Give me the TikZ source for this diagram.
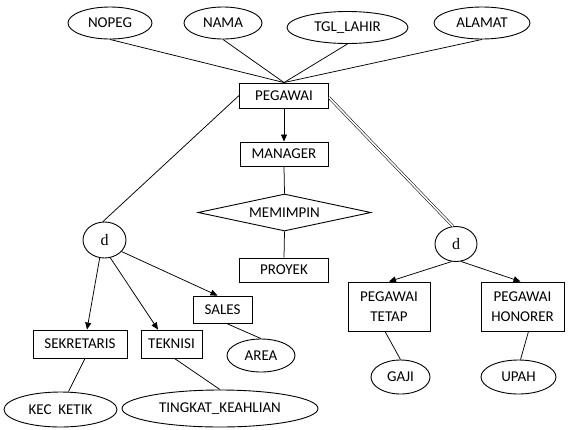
\documentclass[tikz,border=0pt]{standalone}
\usepackage{fontspec}
\setmainfont{Carlito}
\newfontfamily\dfont{Liberation Serif}
\usetikzlibrary{shapes.geometric,arrows.meta}
\begin{document}
\begin{tikzpicture}[x=1pt,y=-1pt,
  every node/.style={font=\fontsize{15}{20}\selectfont, inner sep=0pt, line width=0.9pt},
  ent/.style={draw, rectangle},
  attr/.style={draw, ellipse},
  rel/.style={draw, diamond, aspect=4.7},
  dnode/.style={draw, ellipse, font=\dfont\fontsize{16}{18}\selectfont},
  conn/.style={line width=0.75pt},
  arr/.style={line width=0.75pt, -{Triangle[length=7pt,width=6pt]}},
  dbl/.style={double, double distance=1.6pt, line width=0.55pt}
]
\useasboundingbox[fill=white] (0,0) rectangle (578,429);
% attributes of PEGAWAI
\node[attr, minimum width=84, minimum height=32] (nopeg) at (110,23) {NOPEG};
\node[attr, minimum width=78, minimum height=32] (nama) at (223,23) {NAMA};
\node[attr, minimum width=121, minimum height=32] (tgl) at (347.5,27.5) {TGL\_LAHIR};
\node[attr, minimum width=96, minimum height=32] (alamat) at (482,23) {ALAMAT};
% entities
\node[ent, minimum width=89, minimum height=25] (peg) at (284,95.5) {PEGAWAI};
\node[ent, minimum width=88, minimum height=24] (mgr) at (284,154) {MANAGER};
\node[rel, minimum width=173, minimum height=37] (mem) at (284.5,212.5) {MEMIMPIN};
\node[ent, minimum width=89, minimum height=24] (proyek) at (284,270) {PROYEK};
\node[dnode, minimum width=43, minimum height=36] (dl) at (104.5,240) {d};
\node[dnode, minimum width=42, minimum height=35] (dr) at (456,244) {d};
\node[ent, minimum width=59, minimum height=27] (sales) at (222.5,309.5) {SALES};
\node[ent, minimum width=94, minimum height=28] (sek) at (80,344) {SEKRETARIS};
\node[ent, minimum width=61, minimum height=28] (tek) at (171.5,344) {TEKNISI};
\node[attr, minimum width=68, minimum height=33] (area) at (261,355.5) {AREA};
\node[attr, minimum width=113, minimum height=35] (kec) at (60.5,409.5) {KEC\ \ KETIK};
\node[attr, minimum width=196, minimum height=37] (tingkat) at (220,408.5) {TINGKAT\_KEAHLIAN};
\node[ent, align=center, minimum width=82, minimum height=49] (tetap) at (389,306.5) {PEGAWAI\\TETAP};
\node[ent, align=center, minimum width=83, minimum height=49] (honorer) at (522.5,306.5) {PEGAWAI\\HONORER};
\node[attr, minimum width=59, minimum height=34] (gaji) at (400.5,377) {GAJI};
\node[attr, minimum width=75, minimum height=34] (upah) at (518.5,377) {UPAH};
% connectors
\draw[conn] (nopeg.south) -- (peg.north);
\draw[conn] (nama.south) -- (peg.north);
\draw[conn] (tgl.south) -- (peg.north);
\draw[conn] (alamat.south) -- (peg.north);
\draw[arr] (peg.south) -- (mgr.north);
\draw[conn] (mgr.south) -- (mem.north);
\draw[conn] (mem.south) -- (proyek.north);
\draw[conn] (dl.95) -- (peg.west);
\draw[dbl] ([yshift=-2pt]peg.east) -- (dr.100);
\draw[arr] (dl.-105) -- ([xshift=7pt]sek.north);
\draw[arr] (dl.-72) -- ([xshift=-13.5pt]tek.north);
\draw[arr] (dl.-34) -- ([xshift=-5pt]sales.north);
\draw[conn] ([xshift=5pt]sek.south) -- ([xshift=8pt]kec.north);
\draw[conn] ([xshift=3pt]tek.south) -- (tingkat.north);
\draw[conn] ([xshift=4pt]sales.south) -- (area.north);
\draw[arr] (dr.-104) -- (tetap.north);
\draw[arr] (dr.-74) -- ([xshift=-2pt]honorer.north);
\draw[conn] ([xshift=-4pt]tetap.south) -- (gaji.north);
\draw[conn] ([xshift=6pt]honorer.south) -- ([xshift=2pt]upah.north);
\end{tikzpicture}
\end{document}
